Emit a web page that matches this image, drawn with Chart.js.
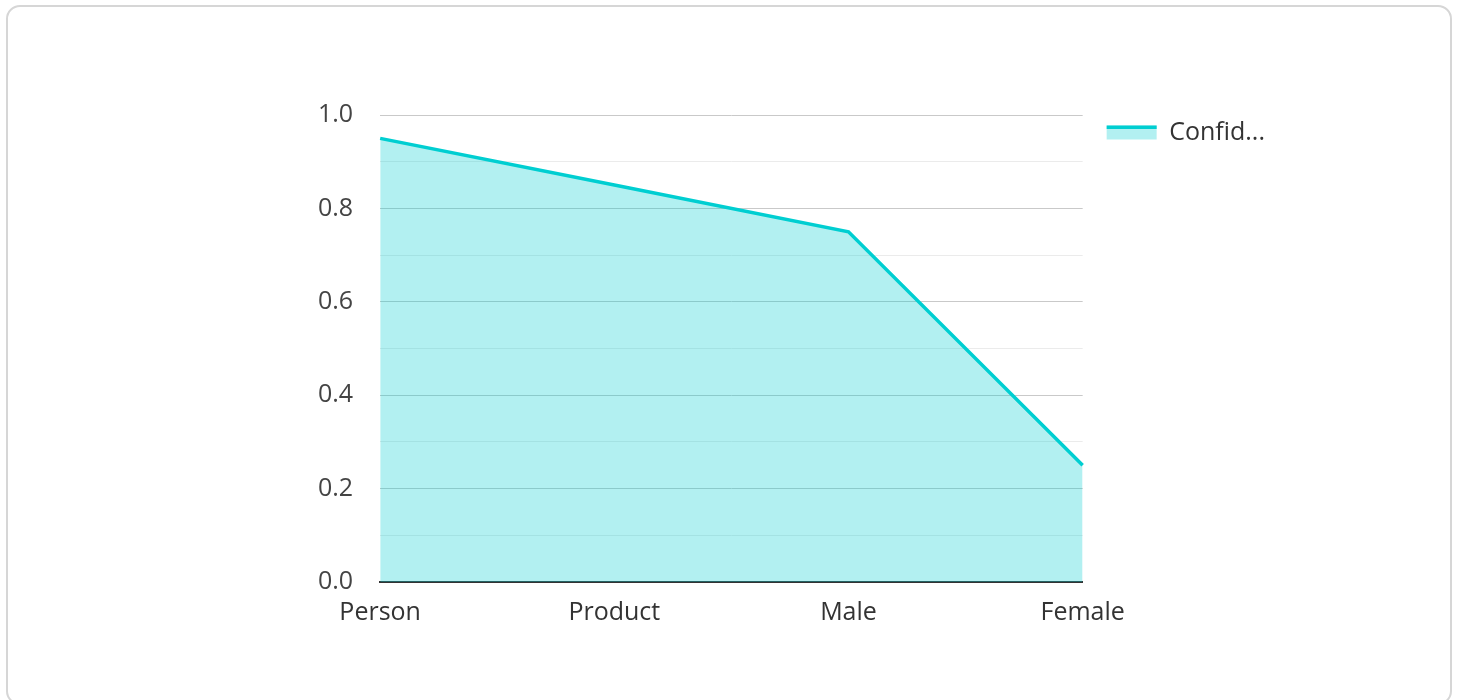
<!DOCTYPE html>
<html>
<head>
<meta charset="utf-8">
<script src="https://cdn.jsdelivr.net/npm/chart.js@4"></script>
<style>
    html, body { margin: 0; padding: 0; background: #fff; }
    body { width: 1458px; height: 700px; position: relative; overflow: hidden; }
    .card {
        position: absolute;
        left: 6px; top: 5px;
        width: 1446px; height: 700px;
        box-sizing: border-box;
        border: 2px solid #d6d6d6;
        border-radius: 14px;
    }
    .wrap { position: absolute; left: 0; top: 0; width: 1458px; height: 700px; }
</style>
</head>
<body>
<div class="card"></div>
<div class="wrap"><canvas id="confChart" width="1458" height="700"></canvas></div>
<script>
const categories = ["Person", "Product", "Male", "Female"];
const confidence = [0.95, 0.85, 0.75, 0.25];
const seriesLabel = "Confidence";

const lineColor = "#00ced1";
const fillColor = "rgba(0, 206, 209, 0.3)";
const fontFamily = "'Open Sans'";

// draws the thick top line over the legend swatch
const legendLinePlugin = {
    id: "legendLine",
    afterDraw(chart) {
        const legend = chart.legend;
        if (!legend || !legend.legendHitBoxes) return;
        const opts = legend.options.labels;
        const ctx = chart.ctx;
        legend.legendHitBoxes.forEach(box => {
            const top = box.top + Math.max((opts.font.size - opts.boxHeight) / 2, 0);
            ctx.save();
            ctx.fillStyle = lineColor;
            ctx.fillRect(box.left, top, opts.boxWidth, 3.5);
            ctx.restore();
        });
    }
};

function isMajor(v) {
    return Math.round(v * 10) % 2 === 0;
}

new Chart(document.getElementById("confChart"), {
    type: "line",
    data: {
        labels: categories,
        datasets: [{
            label: seriesLabel,
            data: confidence,
            borderColor: lineColor,
            backgroundColor: fillColor,
            borderWidth: 3.5,
            pointRadius: 0,
            tension: 0,
            fill: "origin"
        }]
    },
    options: {
        responsive: false,
        animation: false,
        layout: {
            padding: { left: 291, right: 183, top: 96, bottom: 56 }
        },
        plugins: {
            tooltip: { enabled: false },
            // empty title only used as a spacer above the plot
            title: {
                display: true,
                text: "",
                padding: 0,
                font: { size: 19, lineHeight: 1 }
            },
            legend: {
                position: "right",
                align: "start",
                labels: {
                    boxWidth: 50,
                    boxHeight: 14,
                    padding: 24,
                    color: "#333",
                    font: { family: fontFamily, size: 25, lineHeight: 1 },
                    generateLabels(chart) {
                        return chart.data.datasets.map((ds, i) => ({
                            text: ds.label.length > 6 ? ds.label.slice(0, 6) + "..." : ds.label,
                            fillStyle: fillColor,
                            strokeStyle: lineColor,
                            lineWidth: 0,
                            hidden: false,
                            datasetIndex: i,
                            fontColor: "#333"
                        }));
                    }
                }
            }
        },
        scales: {
            x: {
                offset: false,
                z: 1,
                grid: { display: false, drawTicks: false },
                border: { display: true, color: "#333", width: 2 },
                ticks: {
                    padding: 16,
                    color: "#333",
                    maxRotation: 0,
                    font: { family: fontFamily, size: 25 }
                }
            },
            y: {
                min: 0,
                max: 1,
                border: { display: false },
                grid: {
                    drawTicks: false,
                    color: c => isMajor(c.tick.value) ? "#c9c9c9" : "#ebebeb"
                },
                ticks: {
                    stepSize: 0.1,
                    autoSkip: false,
                    padding: 27,
                    color: "#444",
                    font: { family: fontFamily, size: 25 },
                    callback: v => isMajor(v) ? v.toFixed(1) : ""
                }
            }
        }
    },
    plugins: [legendLinePlugin]
});
</script>
</body>
</html>
